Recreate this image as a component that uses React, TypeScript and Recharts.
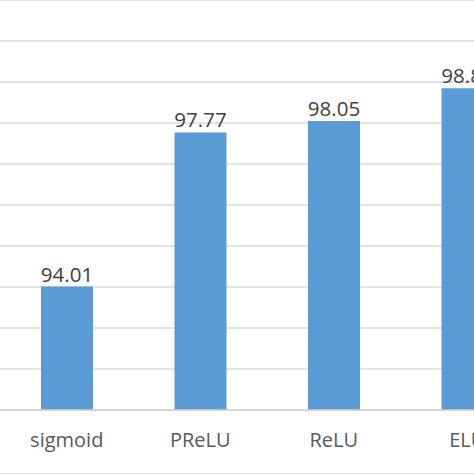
import React from 'react';
import { BarChart, Bar, XAxis, YAxis, CartesianGrid, LabelList } from 'recharts';

const activations = ['sigmoid', 'PReLU', 'ReLU', 'ELU'];
const accuracy = [94.01, 97.77, 98.05, 98.85];
const yTicks = [91, 92, 93, 94, 95, 96, 97, 98, 99, 100, 101];

const data = activations.map((name, i) => ({ name, value: accuracy[i] }));

const font = '"Open Sans", "Noto Sans", sans-serif';

export default function App() {
  return (
    <div
      style={{
        position: 'fixed',
        left: 0,
        top: 0,
        width: 474,
        height: 473,
        overflow: 'hidden',
        background: '#fff',
        borderBottom: '1px solid #d9d9d9',
      }}
    >
      <BarChart
        width={534}
        height={474}
        data={data}
        margin={{ top: 0, right: 0, bottom: 0, left: 0 }}
        barSize={52}
      >
        <CartesianGrid vertical={false} stroke="#d9d9d9" strokeWidth={1.5} />
        <YAxis hide domain={[91, 101]} ticks={yTicks} />
        <XAxis
          dataKey="name"
          height={64}
          tickLine={false}
          axisLine={{ stroke: '#d0d0d0', strokeWidth: 1.5 }}
          tickMargin={17}
          tick={{ fill: '#595959', fontSize: 20, fontFamily: font }}
        />
        <Bar dataKey="value" fill="#5b9bd5" isAnimationActive={false}>
          <LabelList
            dataKey="value"
            position="top"
            offset={5}
            fill="#404040"
            fontSize={20.5}
            fontFamily={font}
          />
        </Bar>
      </BarChart>
    </div>
  );
}
